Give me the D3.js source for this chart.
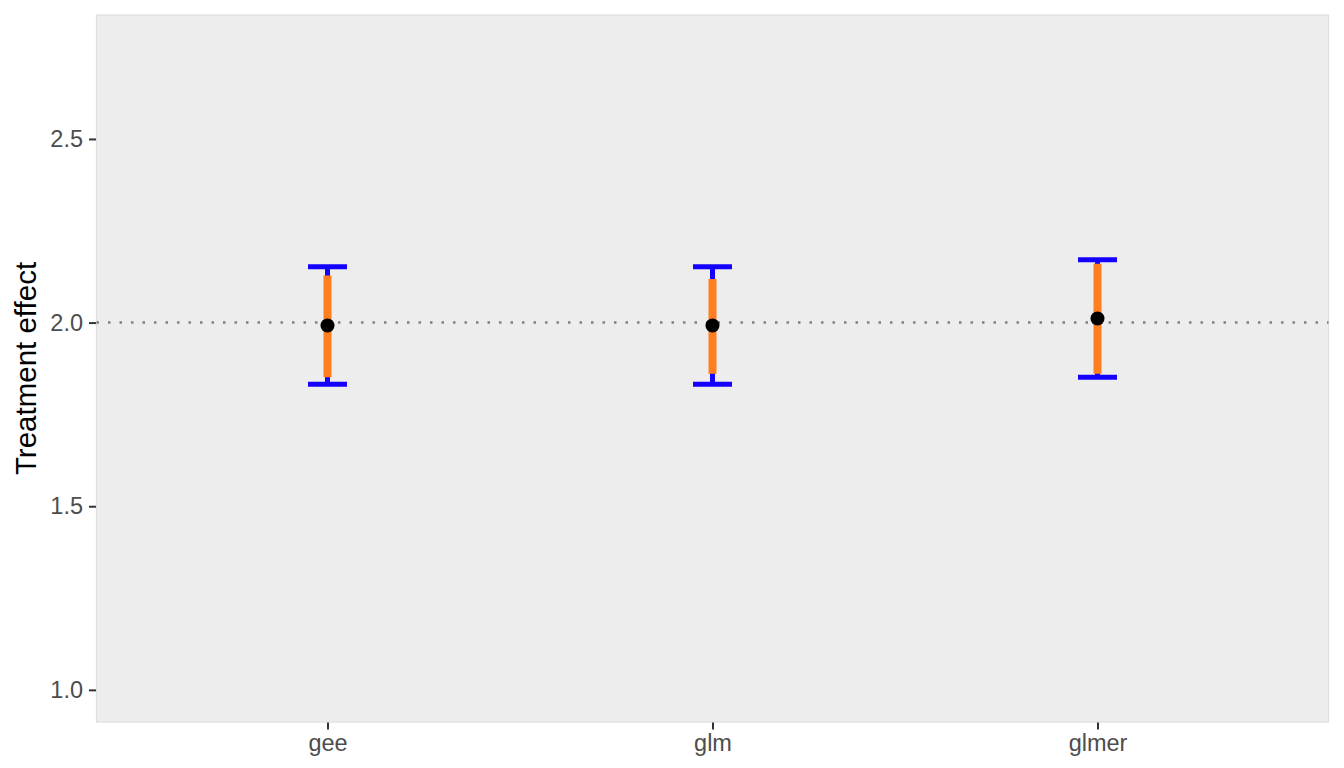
<!DOCTYPE html>
<html><head><meta charset="utf-8">
<script src="https://cdn.jsdelivr.net/npm/d3@7"></script>
<style>body{margin:0;background:#fff;} svg{display:block;font-family:"Liberation Sans",Arial,Helvetica,sans-serif;}</style>
</head><body>
<svg id="c" width="1344" height="768"></svg>
<script>
const categories = ["gee", "glm", "glmer"];
const estimate = [1.992, 1.992, 2.011];
const outerLow = [1.832, 1.832, 1.851];
const outerHigh = [2.152, 2.152, 2.171];
const innerLow = [1.851, 1.861, 1.861];
const innerHigh = [2.128, 2.119, 2.160];
const yTicks = [1.0, 1.5, 2.0, 2.5];
const refValue = 2.0;

const svg = d3.select("#c");
const L = 96.5, R = 1328.5, T = 15, B = 722;
const x = d3.scalePoint().domain(categories).range([L, R]).padding(0.6);
const y = d3.scaleLinear().domain([0.9125, 2.8375]).range([B, T]);

svg.append("rect").attr("x", L).attr("y", T).attr("width", R - L).attr("height", B - T)
  .attr("fill", "#EDEDED").attr("stroke", "#DEDEDE").attr("stroke-width", 1.2);

svg.append("line").attr("x1", L).attr("x2", R).attr("y1", y(refValue)).attr("y2", y(refValue))
  .attr("stroke", "#7F7F7F").attr("stroke-width", 2.5).attr("stroke-dasharray", "2.5,9");

const data = categories.map((c, i) => ({c, e: estimate[i], ol: outerLow[i], oh: outerHigh[i], il: innerLow[i], ih: innerHigh[i]}));
const g = svg.append("g").selectAll("g").data(data).join("g");
const capW = 19.5;
g.append("line").attr("x1", d => x(d.c)).attr("x2", d => x(d.c)).attr("y1", d => y(d.ol)).attr("y2", d => y(d.oh))
  .attr("stroke", "#1400FF").attr("stroke-width", 5);
g.append("line").attr("x1", d => x(d.c) - capW).attr("x2", d => x(d.c) + capW).attr("y1", d => y(d.ol)).attr("y2", d => y(d.ol))
  .attr("stroke", "#1400FF").attr("stroke-width", 5);
g.append("line").attr("x1", d => x(d.c) - capW).attr("x2", d => x(d.c) + capW).attr("y1", d => y(d.oh)).attr("y2", d => y(d.oh))
  .attr("stroke", "#1400FF").attr("stroke-width", 5);
g.append("line").attr("x1", d => x(d.c)).attr("x2", d => x(d.c)).attr("y1", d => y(d.il)).attr("y2", d => y(d.ih))
  .attr("stroke", "#FF7F1E").attr("stroke-width", 8);
g.append("circle").attr("cx", d => x(d.c)).attr("cy", d => y(d.e)).attr("r", 7).attr("fill", "#000");

const yAxis = svg.append("g").attr("transform", `translate(${L - 0.5},0)`)
  .call(d3.axisLeft(y).tickValues(yTicks).tickFormat(d3.format(".1f")).tickSize(7).tickPadding(6));
const xAxis = svg.append("g").attr("transform", `translate(0,${B + 0.5})`)
  .call(d3.axisBottom(x).tickSize(7).tickPadding(5));
[yAxis, xAxis].forEach(a => {
  a.select(".domain").remove();
  a.selectAll(".tick line").attr("stroke", "#333").attr("stroke-width", 2);
  a.selectAll(".tick text").attr("fill", "#4D4D4D").attr("font-size", 23.5).attr("font-family", "'Liberation Sans',Arial,sans-serif");
});

svg.append("text").attr("transform", `translate(36,${(T + B) / 2}) rotate(-90)`)
  .attr("text-anchor", "middle").attr("font-size", 29.5).attr("fill", "#000").text("Treatment effect");
</script>
</body></html>
